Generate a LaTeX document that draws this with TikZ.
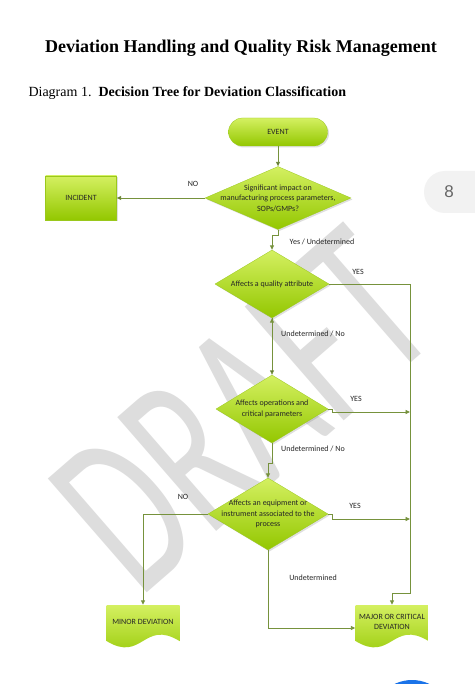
\documentclass[tikz,border=0pt]{standalone}
\usepackage{fontspec}
\usepackage{graphicx}
\setmainfont{Liberation Serif}
\newfontfamily\calibri{Carlito}
\newfontfamily\badgefont{Liberation Sans}
\usetikzlibrary{shapes.geometric,arrows.meta,shadows}
\definecolor{limetop}{HTML}{D4F061}
\definecolor{limebot}{HTML}{93C700}
\definecolor{limeedge}{HTML}{9AC81C}
\definecolor{flowline}{HTML}{76923C}
\definecolor{markgray}{HTML}{DDDDDD}
\definecolor{badgegray}{HTML}{F2F2F2}
\definecolor{fabblue}{HTML}{1A73E8}
\begin{document}
\begin{tikzpicture}[x=1pt,y=-1pt,
    every node/.style={font=\calibri\fontsize{8}{10.5}\selectfont, text=black!85, align=center},
    flow/.style={draw=flowline, line width=0.9pt, -{Triangle[length=4.5pt,width=4pt]}},
    limefill/.style={top color=limetop, bottom color=limebot, draw=limeedge, line width=0.3pt},
    softshadow/.style={drop shadow={opacity=0.25, shadow xshift=1.5pt, shadow yshift=-1.5pt}},
    terminal/.style={limefill, softshadow, rounded corners=14pt, minimum width=99pt, minimum height=28pt},
    outcome/.style={limefill, softshadow, minimum width=71pt, minimum height=44pt},
    decision/.style={diamond, limefill, softshadow, inner sep=0pt},
    docnode/.style={minimum width=73pt, minimum height=46pt, inner sep=0pt,
      path picture={\shade[top color=limetop, bottom color=limebot]
        (path picture bounding box.north west) -- (path picture bounding box.north east)
        -- ([yshift=10pt]path picture bounding box.south east)
        .. controls +(-36,-22) and +(36,22) .. ([yshift=10pt]path picture bounding box.south west) -- cycle;}},
    choice/.style={font=\calibri\fontsize{8}{10}\selectfont}]

    \fill[white] (0,0) rectangle (474,684);
    \useasboundingbox (0,0) rectangle (474,684);

    % watermark and page furniture
    \node[rotate=41, text=markgray, font=\calibri\fontsize{235}{235}\selectfont] (draftmark) at (242,410) {\scalebox{0.64}[1]{DRAFT}};
    \fill[badgegray, rounded corners=21pt] (424,171) rectangle (500,213);
    \node[font=\badgefont\fontsize{17}{17}\selectfont, text=black!60] (pagenum) at (449,192) {8};
    \fill[fabblue] (412,720) circle (40);

    % headings
    \node[anchor=base, font=\fontsize{18}{22}\selectfont\bfseries, text=black] (title) at (241,53) {Deviation Handling and Quality Risk Management};
    \node[anchor=base west, font=\fontsize{14}{17}\selectfont, text=black] (subtitle) at (25,97) {Diagram 1.\ \ \textbf{Decision Tree for Deviation Classification}};

    % flow chart
    \node[terminal] (event) at (278,132) {EVENT};
    \node[decision, minimum width=146pt, minimum height=63pt,
          label={center:Significant impact on\\manufacturing process parameters,\\SOPs/GMPs?}] (impact) at (278,198) {};
    \node[outcome] (incident) at (81,198) {INCIDENT};
    \node[decision, minimum width=114pt, minimum height=68pt,
          label={center:Affects a quality attribute}] (quality) at (272,284) {};
    \node[decision, minimum width=112pt, minimum height=68pt,
          label={center:Affects operations and\\critical parameters}] (operations) at (272,409) {};
    \node[decision, minimum width=120pt, minimum height=72pt,
          label={center:Affects an equipment or\\instrument associated to the\\process}] (equipment) at (268,514) {};
    \node[docnode, label={[yshift=6pt]center:MINOR DEVIATION}] (minor) at (143,628) {};
    \node[docnode, label={[yshift=6pt]center:MAJOR OR CRITICAL\\DEVIATION}] (major) at (392,628) {};

    \coordinate (railbend) at (410,593);
    \coordinate (railops) at (410,412);
    \coordinate (railequip) at (410,519);

    \path[flow] (event) edge (impact)
                (impact.west) edge (incident.east)
                (quality.south) edge (operations.north);
    \draw[flow] (impact.south) -- ++(0,6) -| (quality.north);
    \draw[flow] (operations.south) -- ++(0,20) -| (equipment.north);
    \draw[flow] (quality.east) -| (railbend) -| (major.north);
    \draw[flow] (operations.east) -- ++(4,0) |- (railops);
    \draw[flow] (equipment.east) -- ++(4,0) |- (railequip);
    \draw[flow] (equipment.west) -| (minor.north);
    \draw[flow] (equipment.south) |- (major.west);

    % answers
    \node[choice] (no1) at (193,184) {NO};
    \node[choice] (yes1) at (322,242) {Yes / Undetermined};
    \node[choice] (yes2) at (358,272) {YES};
    \node[choice] (undet2) at (313,334) {Undetermined / No};
    \node[choice] (yes3) at (356,399) {YES};
    \node[choice] (undet3) at (313,449) {Undetermined / No};
    \node[choice] (no4) at (183,497) {NO};
    \node[choice] (yes4) at (355,506) {YES};
    \node[choice] (undet4) at (313,578) {Undetermined};
\end{tikzpicture}
\end{document}
